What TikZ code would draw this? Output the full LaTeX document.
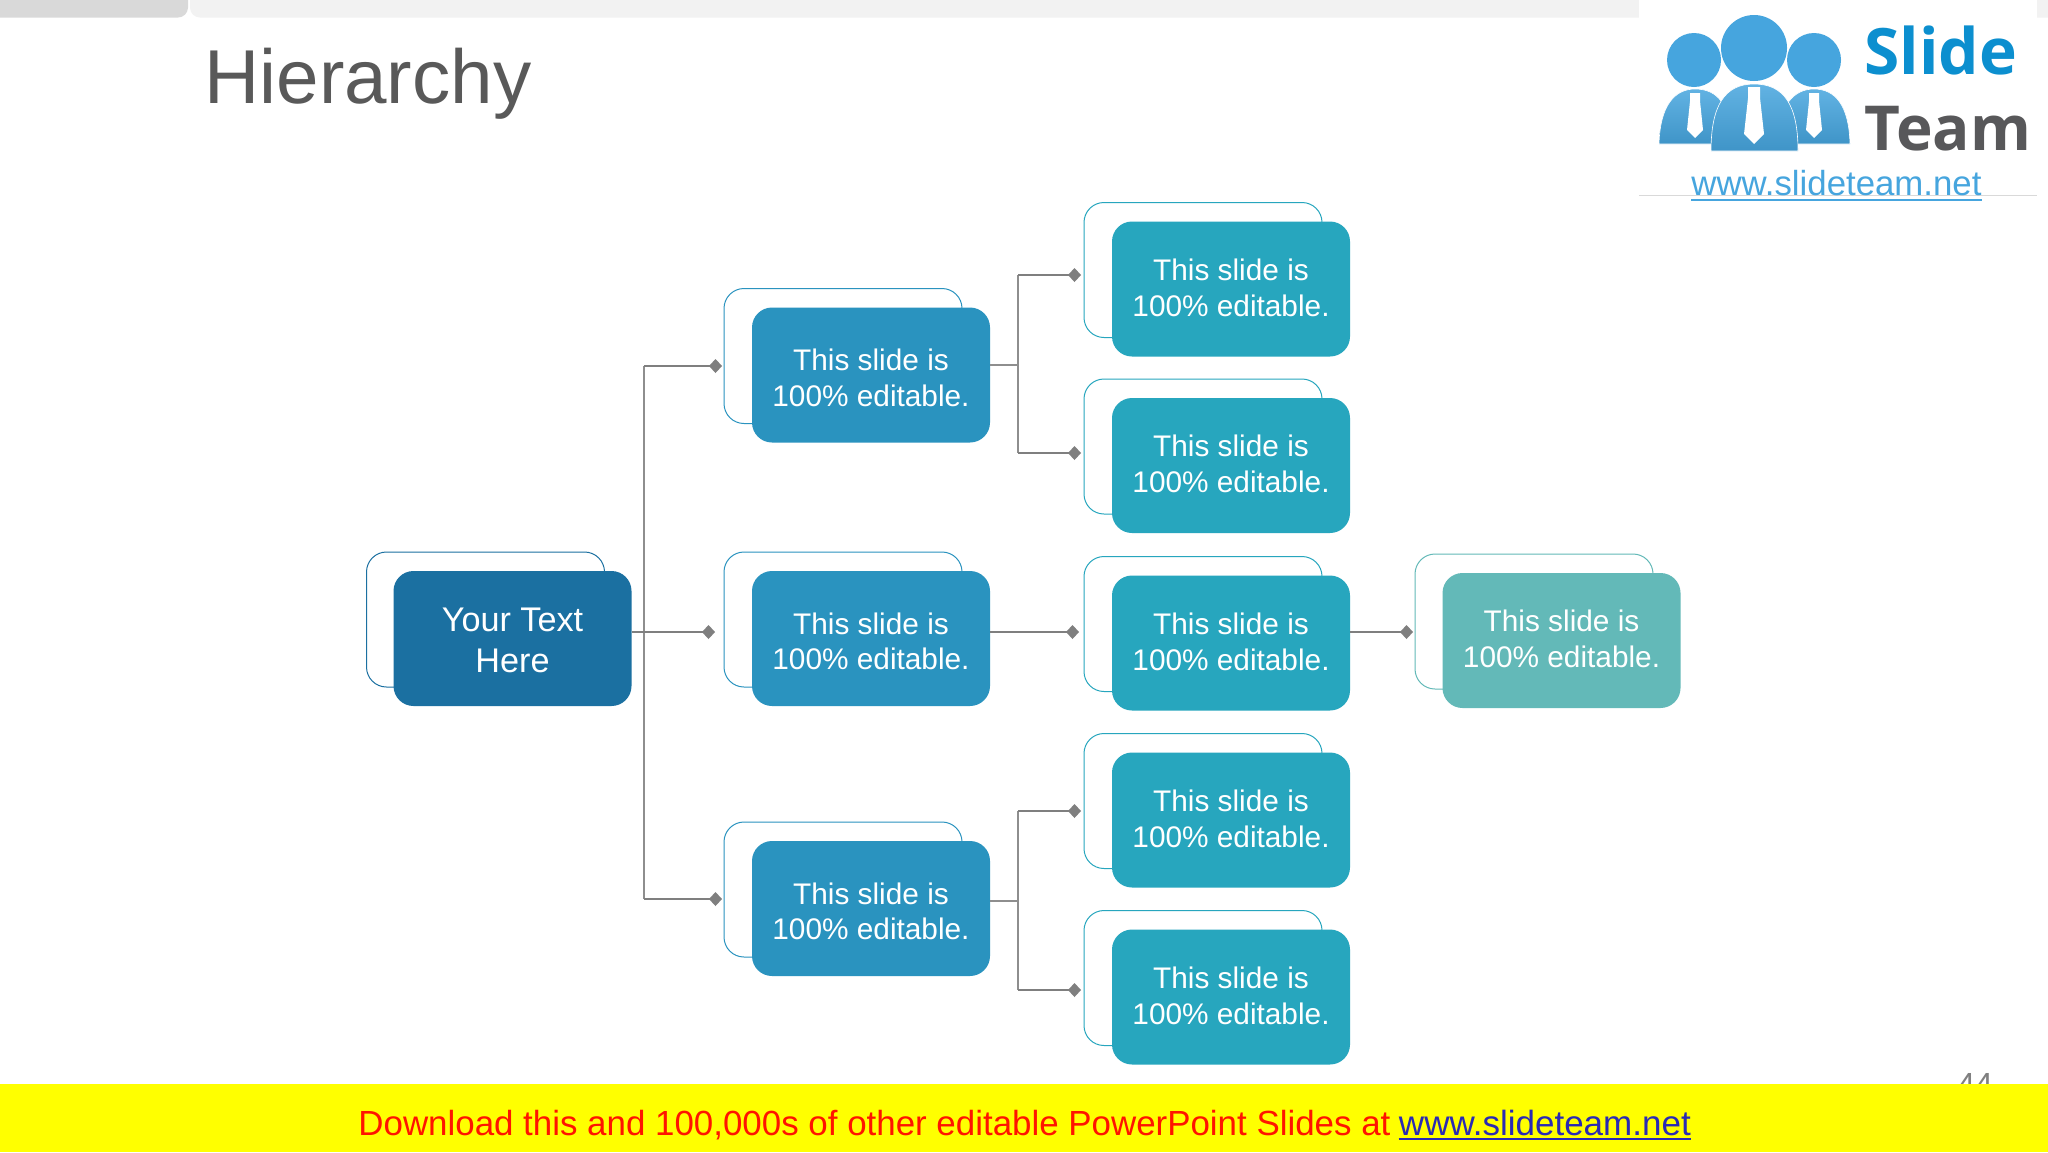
\documentclass[tikz,border=0pt]{standalone}
\usepackage{fontspec}
\setmainfont{Liberation Sans}
\newfontfamily\logofont{Open Sans}
\usetikzlibrary{arrows.meta}
\definecolor{rootblue}{HTML}{1B70A1}
\definecolor{midblue}{HTML}{2A93BF}
\definecolor{tealblue}{HTML}{27A6BE}
\definecolor{softteal}{HTML}{63B9B8}
\definecolor{linegray}{HTML}{7F7F7F}
\definecolor{lightgray}{HTML}{8E8E8E}
\definecolor{logoblue}{HTML}{46A5DE}
\definecolor{slideblue}{HTML}{0C8FCF}
\definecolor{teamgray}{HTML}{58585A}
\definecolor{bandyellow}{HTML}{FFFF00}
\definecolor{bandred}{HTML}{FF1400}
\definecolor{linkblue}{HTML}{2A2AB4}
\tikzset{
  card/.style={rounded corners=10pt, inner sep=0pt, minimum width=119pt, minimum height=67.5pt,
    align=center, text=white, text depth=0pt, font=\fontsize{14.9}{17.8}\selectfont},
  rootcard/.style={card, fill=rootblue, text height=33.8pt, font=\fontsize{17.1}{20.6}\selectfont},
  midcard/.style={card, fill=midblue, text height=31.3pt},
  tealcard/.style={card, fill=tealblue, text height=27pt},
  softcard/.style={card, fill=softteal, text height=27pt},
  rear/.style={rounded corners=10pt, inner sep=0pt, minimum width=119pt, minimum height=67.5pt, draw=#1, line width=0.5pt},
  trunk/.style={draw=lightgray, line width=0.6pt},
  feed/.style={draw=linegray, line width=0.9pt},
  tipfeed/.style={feed, -{Diamond[width=7pt,length=6.5pt,sep=0pt]}},
  head/.style={fill=logoblue},
  body/.style={top color=logoblue!85!white, bottom color=logoblue!90!black, draw=white, line width=0.3pt},
  tie/.style={fill=white}
}
\begin{document}
\begin{tikzpicture}[x=0.5pt,y=-0.5pt]
  \useasboundingbox (0,0) rectangle (2048,1152);
  \fill[white] (0,0) rectangle (2048,1152);
  % top bar
  \fill[black!5, rounded corners=5pt] (190,-20) rectangle (2100,17.5);
  \fill[black!15, rounded corners=5pt] (-20,-20) rectangle (188,17.5);
  \node[anchor=base west, inner sep=0pt, text=black!65, font=\fontsize{38.2}{44}\selectfont] (title) at (204,103.5) {Hierarchy};
  % logo
  \fill[white] (1639,0) rectangle (2037,195);
  \draw[black!15, line width=0.5pt] (1639,195) -- (2037,195);
  \draw[body] (1659,144) .. controls (1660,105) and (1675,89) .. (1695,89) .. controls (1718,89) and (1731,105) .. (1731,144) -- cycle;
  \draw[body] (1778,144) .. controls (1778,105) and (1794,89) .. (1814,89) .. controls (1835,89) and (1849,105) .. (1850,144) -- cycle;
  \draw[body] (1711,151) .. controls (1711,105) and (1725,84) .. (1754,84) .. controls (1784,84) and (1798,105) .. (1798,151) -- cycle;
  \fill[head] (1694,60) circle (27);
  \fill[head] (1814,60) circle (27);
  \fill[head] (1754,48) circle (33);
  \fill[tie] (1690,93) -- (1700,93) -- (1700,101) -- (1703,130) -- (1695,138) -- (1687,130) -- (1690,101) -- cycle;
  \fill[tie] (1809,93) -- (1819,93) -- (1819,101) -- (1822,130) -- (1814,138) -- (1806,130) -- (1809,101) -- cycle;
  \fill[tie] (1748,87) -- (1760,87) -- (1760,98) -- (1764,134) -- (1754,144) -- (1744,134) -- (1748,98) -- cycle;
  \node[anchor=base west, inner sep=0pt, text=teamgray, font=\logofont\bfseries\fontsize{31}{36}\selectfont] (team) at (1864,150.7) {Team};
  \node[anchor=base west, inner sep=0pt, text=slideblue, font=\logofont\bfseries\fontsize{32}{36}\selectfont] (slide) at (1864,74) {Slide};
  \node[anchor=base west, inner sep=0pt, text=logoblue, font=\fontsize{17.4}{20}\selectfont] (url) at (1691,195) {www.slideteam.net};
  \draw[logoblue, line width=1.1pt] ([yshift=-2.5pt]url.base west) -- ([yshift=-2.5pt]url.base east);
  % cards, rear frame first
  \node[rear=rootblue] (rootr) at (485.5,619.5) {};
  \node[rootcard] (root) at (512.5,638.5) {Your Text\\Here};
  \node[rear=midblue] (atopr) at (843,356) {};
  \node[midcard] (atop) at (871,375) {This slide is\\100\% editable.};
  \node[rear=midblue] (amidr) at (843,619.5) {};
  \node[midcard] (amid) at (871,638.5) {This slide is\\100\% editable.};
  \node[rear=midblue] (abotr) at (843,889.5) {};
  \node[midcard] (abot) at (871,908.5) {This slide is\\100\% editable.};
  \node[rear=tealblue] (b1r) at (1203,270) {};
  \node[tealcard] (b1) at (1231,289) {This slide is\\100\% editable.};
  \node[rear=tealblue] (b2r) at (1203,446.5) {};
  \node[tealcard] (b2) at (1231,465.5) {This slide is\\100\% editable.};
  \node[rear=tealblue] (b3r) at (1203,624) {};
  \node[tealcard] (b3) at (1231,643) {This slide is\\100\% editable.};
  \node[rear=tealblue] (b4r) at (1203,801) {};
  \node[tealcard] (b4) at (1231,820) {This slide is\\100\% editable.};
  \node[rear=tealblue] (b5r) at (1203,978) {};
  \node[tealcard] (b5) at (1231,997) {This slide is\\100\% editable.};
  \node[rear=softteal] (cr) at (1534,621.5) {};
  \node[softcard] (c) at (1561.5,640.5) {This slide is\\100\% editable.};
  % connector ends
  \coordinate (rootout) at (root.east |- 0,632);
  \coordinate (trtop) at (644,366);
  \coordinate (trbot) at (644,899);
  \coordinate (atoptip) at (722,366);
  \coordinate (amidtip) at (715,632);
  \coordinate (abottip) at (722,899);
  \coordinate (atopj) at (1018,365);
  \coordinate (abotj) at (1018,901);
  \coordinate (b1j) at (1018,275);
  \coordinate (b2j) at (1018,453);
  \coordinate (b4j) at (1018,811);
  \coordinate (b5j) at (1018,990);
  \coordinate (b1tip) at (1081,275);
  \coordinate (b2tip) at (1081,453);
  \coordinate (b3tip) at (1079,632);
  \coordinate (b4tip) at (1081,811);
  \coordinate (b5tip) at (1081,990);
  \coordinate (ctip) at (1413,632);
  % connectors
  \draw[trunk] (trtop) -- (trbot);
  \draw[tipfeed] (rootout) -- (amidtip);
  \draw[tipfeed] (trtop) -- (atoptip);
  \draw[tipfeed] (trbot) -- (abottip);
  \draw[trunk] (atop.east |- atopj) -- (atopj);
  \draw[trunk] (b1j) -- (b2j);
  \draw[tipfeed] (b1j) -- (b1tip);
  \draw[tipfeed] (b2j) -- (b2tip);
  \draw[tipfeed] (amid.east |- b3tip) -- (b3tip);
  \draw[trunk] (abot.east |- abotj) -- (abotj);
  \draw[trunk] (b4j) -- (b5j);
  \draw[tipfeed] (b4j) -- (b4tip);
  \draw[tipfeed] (b5j) -- (b5tip);
  \draw[tipfeed] (b3.east |- ctip) -- (ctip);
  % page number, cut by the band
  \node[anchor=base west, inner sep=0pt, text=black!50, font=\fontsize{16}{18}\selectfont] (pagenum) at (1957,1095) {44};
  \fill[bandyellow] (0,1084) rectangle (2048,1152);
  \node[anchor=base west, inner sep=0pt, text=bandred, font=\fontsize{17.45}{20}\selectfont] (download) at (358,1135) {Download this and 100,000s of other editable PowerPoint Slides at};
  \node[anchor=base west, inner sep=0pt, xshift=3.8pt, text=linkblue, font=\fontsize{17.5}{20}\selectfont] (link) at (download.base east) {www.slideteam.net};
  \draw[linkblue, line width=0.8pt] ([yshift=-2pt]link.base west) -- ([yshift=-2pt]link.base east);
\end{tikzpicture}
\end{document}
